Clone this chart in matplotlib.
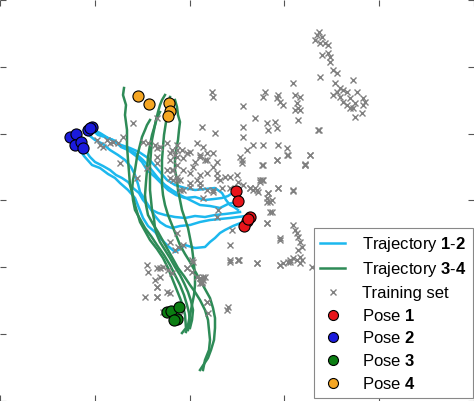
import matplotlib.pyplot as plt
from matplotlib.ticker import MultipleLocator

plt.rcParams["font.family"] = ["Liberation Sans", "DejaVu Sans"]
plt.rcParams["mathtext.fontset"] = "custom"
plt.rcParams["mathtext.rm"] = "Liberation Sans"
plt.rcParams["mathtext.bf"] = "Liberation Sans:bold"

# trajectories 1-2 (pose 2 -> pose 1)
traj12 = [
    ([88, 94, 100, 108, 115, 121, 128, 136, 142, 147, 155, 161, 168, 176, 185,
      195, 205, 214, 222, 228, 234],
     [126, 131, 133, 138, 141, 147, 150, 156, 162, 170, 177, 183, 190, 195, 198,
      197, 200, 199, 198, 196, 192]),
    ([92, 99, 105, 113, 120, 128, 135, 143, 150, 158, 165, 172, 180, 190, 200,
      210, 220, 228, 236],
     [127, 133, 137, 140, 145, 149, 153, 160, 168, 178, 185, 190, 195, 200, 205,
      206, 208, 204, 202]),
    ([80, 82, 85, 90, 95, 103, 110, 116, 122, 128, 133, 139, 143, 148, 152, 158,
      165, 175, 185, 195, 205, 215, 225, 233, 240],
     [132, 142, 150, 157, 162, 166, 170, 175, 178, 182, 188, 193, 200, 206, 210,
      213, 215, 217, 218, 216, 217, 215, 214, 213, 212]),
    ([76, 80, 84, 92, 100, 108, 115, 120, 128, 135, 139, 143, 148, 155, 162, 168,
      175, 180, 185, 195, 205, 210, 215, 220, 225, 233, 243],
     [140, 150, 156, 165, 168, 174, 178, 183, 190, 198, 208, 218, 226, 232, 240,
      246, 252, 249, 245, 248, 247, 242, 238, 233, 230, 226, 222]),
    ([84, 90, 95, 103, 110, 118, 125, 131, 135, 138, 140, 145, 150, 155, 160, 166,
      172, 180, 190, 200, 210, 220, 230, 238, 246],
     [130, 136, 140, 144, 150, 155, 160, 167, 175, 184, 192, 200, 208, 216, 222,
      226, 228, 226, 225, 222, 220, 219, 218, 217, 216]),
    ([90, 98, 105, 112, 121, 130, 139, 148, 154, 160, 167, 175, 185, 195, 205,
      215, 222, 226, 230, 234, 238],
     [128, 135, 137, 140, 145, 148, 152, 158, 165, 172, 180, 185, 188, 190, 189,
      188, 193, 200, 205, 207, 210]),
]

# trajectories 3-4 (pose 4 -> pose 3)
traj34 = [
    ([124, 123, 126, 125, 127, 127, 128, 129, 130, 133, 135, 140, 145, 150, 157,
      163, 168, 172, 176, 180, 183, 185, 186, 182],
     [88, 95, 105, 115, 130, 145, 160, 172, 185, 196, 205, 222, 231, 240, 249,
      258, 268, 278, 288, 298, 306, 315, 328, 333]),
    ([150, 147, 145, 142, 140, 137, 135, 133, 132, 133, 135, 140, 145, 151, 157,
      164, 170, 175, 180, 184, 187, 189, 190, 188],
     [120, 125, 130, 137, 145, 157, 170, 180, 190, 200, 210, 219, 228, 236, 245,
      255, 265, 275, 285, 295, 305, 313, 322, 330]),
    ([160, 157, 155, 152, 150, 148, 147, 146, 145, 146, 148, 153, 158, 163, 168,
      173, 178, 184, 190, 195, 200, 205, 208, 210, 209, 205, 203],
     [112, 118, 125, 135, 145, 157, 170, 182, 195, 205, 215, 224, 232, 241, 250,
      259, 268, 276, 285, 292, 300, 310, 320, 340, 350, 360, 370]),
    ([170, 169, 168, 166, 164, 163, 162, 162, 162, 163, 165, 168, 172, 176, 180,
      185, 190, 195, 200, 205, 210, 213, 215, 215, 214, 211, 208, 204, 200],
     [97, 103, 110, 122, 135, 147, 160, 172, 185, 195, 205, 215, 225, 235, 245,
      254, 262, 271, 280, 289, 298, 308, 318, 328, 340, 350, 358, 364, 370]),
    ([175, 177, 178, 180, 179, 178, 176, 175, 175, 177, 178, 180, 182, 185, 188,
      190, 192, 193, 194, 195, 195, 194, 192, 190, 188, 186],
     [100, 107, 115, 122, 130, 140, 150, 160, 170, 180, 190, 200, 210, 219, 228,
      238, 248, 256, 265, 275, 285, 295, 305, 315, 325, 332]),
    ([165, 162, 160, 158, 156, 154, 152, 151, 150, 150, 150, 151, 152, 154, 155,
      157, 160, 165, 170, 175, 180, 184, 188, 191, 193, 192, 190],
     [95, 100, 105, 112, 120, 130, 140, 152, 165, 178, 190, 200, 210, 219, 228,
      235, 242, 250, 258, 267, 275, 283, 292, 301, 310, 320, 328]),
]

train_x = [
    319, 317, 322, 315, 325, 320, 328, 322, 328, 330, 330, 333, 337, 320, 353,
    335, 340, 337, 343, 347, 357, 333, 340, 350, 343, 347, 355, 363, 365, 363,
    353, 362, 355, 350, 319, 310, 305,
    293, 265, 263, 277, 280, 278, 295, 300, 297, 298, 295, 300, 298, 283, 255,
    243, 267, 275, 277, 268, 243, 243, 318, 253, 263, 278, 287, 288, 310, 305,
    247, 262, 277, 242, 262, 255, 258, 268, 278, 293, 267, 270, 272, 267, 280,
    293, 295, 297, 298, 300, 302, 298, 290, 283, 293, 302, 300, 253, 250, 260,
    239, 257, 280, 290, 312,
    212, 213, 202, 215, 133, 157, 97, 100, 107, 110, 113, 118, 123, 120, 103,
    143, 148, 155, 160, 167, 172, 177, 182, 175, 170, 183, 190, 197, 203, 200,
    207, 195, 207, 213, 190, 197, 177, 180, 173, 167, 190, 200, 207, 213, 137,
    157, 157, 147, 183, 203, 217, 177, 157, 173, 177, 177,
    170, 177, 187, 200, 205, 217, 213, 240, 242, 263, 277, 287, 305, 172, 183,
    193, 200, 207, 217, 220, 225, 230, 237, 238, 170, 177, 190, 180, 200, 213,
    222, 230, 243, 250, 257, 260, 263, 268, 272, 267, 278, 293, 270, 267, 280,
    230, 232, 218, 217, 170, 175, 178, 183, 230, 238, 257, 280, 288, 297, 300,
    192, 187, 157, 160, 200, 203, 205, 202, 157, 167, 157, 207, 228,
    147, 148, 160, 163, 168, 172, 155, 157, 145, 157, 170, 187, 193, 192, 197,
    202, 203, 200, 230, 238, 207, 227, 163, 180, 208,
]
train_y = [
    32, 35, 37, 40, 43, 43, 45, 55, 53, 57, 62, 70, 73, 77, 80,
    83, 88, 92, 90, 92, 92, 95, 97, 98, 102, 105, 103, 98, 102, 105,
    108, 113, 117, 108, 130, 155, 164,
    83, 92, 97, 98, 102, 95, 95, 97, 103, 108, 110, 110, 120, 105, 118,
    106, 123, 122, 128, 130, 127, 137, 130, 145, 145, 145, 148, 155, 155, 165,
    150, 165, 160, 160, 180, 188, 192, 193, 188, 191, 198, 202, 212, 223, 238,
    225, 230, 233, 237, 242, 247, 250, 260, 263, 258, 260, 263, 190, 188, 180,
    260, 263, 265, 262, 267,
    92, 97, 127, 133, 123, 118, 140, 145, 140, 143, 142, 143, 137, 163, 147,
    142, 143, 145, 147, 143, 150, 145, 150, 155, 160, 158, 152, 143, 147, 157,
    153, 162, 160, 167, 173, 180, 177, 180, 180, 170, 187, 187, 190, 190, 178,
    163, 157, 168, 190, 198, 178, 233, 148, 170, 165, 150,
    153, 157, 153, 155, 160, 162, 153, 157, 163, 165, 160, 155, 165, 170, 170,
    167, 175, 173, 173, 180, 177, 177, 175, 182, 178, 180, 183, 190, 183, 192,
    188, 188, 185, 188, 190, 182, 180, 193, 200, 202, 188, 190, 212, 223, 240,
    245, 230, 210, 217, 242, 250, 247, 245, 260, 260, 263, 265, 262, 260, 257,
    260, 268, 268, 277, 278, 280, 277, 283, 287, 292, 297, 302, 307,
    265, 272, 268, 267, 270, 273, 280, 287, 297, 297, 293, 268, 262, 272, 277,
    282, 277, 283, 262, 260, 302, 310, 312, 315, 313,
]

pose1_x = [236, 238, 250, 247, 244, 248]
pose1_y = [191, 201, 217, 221, 226, 219]
pose2_x = [70, 76, 75, 81, 83, 88, 92, 90]
pose2_y = [137, 134, 145, 142, 148, 130, 127, 128]
pose3_x = [167, 171, 179, 177, 174]
pose3_y = [312, 311, 307, 319, 320]
pose4_x = [138, 149, 169, 170, 168]
pose4_y = [96, 104, 103, 111, 116]

fig = plt.figure(figsize=(4.74, 4.01), dpi=100)
ax = fig.add_axes([0, 0, 1, 1])

for i, (xs, ys) in enumerate(traj12):
    ax.plot(xs, ys, color="#1cb8ee", lw=1.8,
            label="Trajectory $\\mathbf{1}$-$\\mathbf{2}$" if i == 0 else None)
for i, (xs, ys) in enumerate(traj34):
    ax.plot(xs, ys, color="#2e8b57", lw=1.8,
            label="Trajectory $\\mathbf{3}$-$\\mathbf{4}$" if i == 0 else None)

ax.plot(train_x, train_y, "x", color="#808080", ms=5, mew=1.0,
        label="Training set")

poses = [
    (pose1_x, pose1_y, "#e8141a", "1"),
    (pose2_x, pose2_y, "#1b1bdc", "2"),
    (pose3_x, pose3_y, "#0b7d12", "3"),
    (pose4_x, pose4_y, "#f5a623", "4"),
]
for px, py, c, n in poses:
    ax.plot(px, py, "o", color=c, mec="black", mew=0.8, ms=8,
            label="Pose $\\mathbf{" + n + "}$")

ax.set_xlim(0, 474)
ax.set_ylim(401, 0)
ax.xaxis.set_major_locator(MultipleLocator(94.8))
ax.yaxis.set_major_locator(MultipleLocator(66.8))
ax.tick_params(direction="in", length=4, color="#555555", top=True, right=True,
               labelbottom=False, labelleft=False)
for s in ax.spines.values():
    s.set_visible(False)

leg = ax.legend(loc="lower right", bbox_to_anchor=(0.998, 0.007),
                borderaxespad=0, fontsize=12, fancybox=False, framealpha=1,
                edgecolor="#888888", handlelength=1.5, handletextpad=1.0,
                labelspacing=0.4, borderpad=0.4, markerscale=0.9)
leg.get_frame().set_linewidth(0.8)

plt.savefig("out.png", dpi=100)
plt.close()
